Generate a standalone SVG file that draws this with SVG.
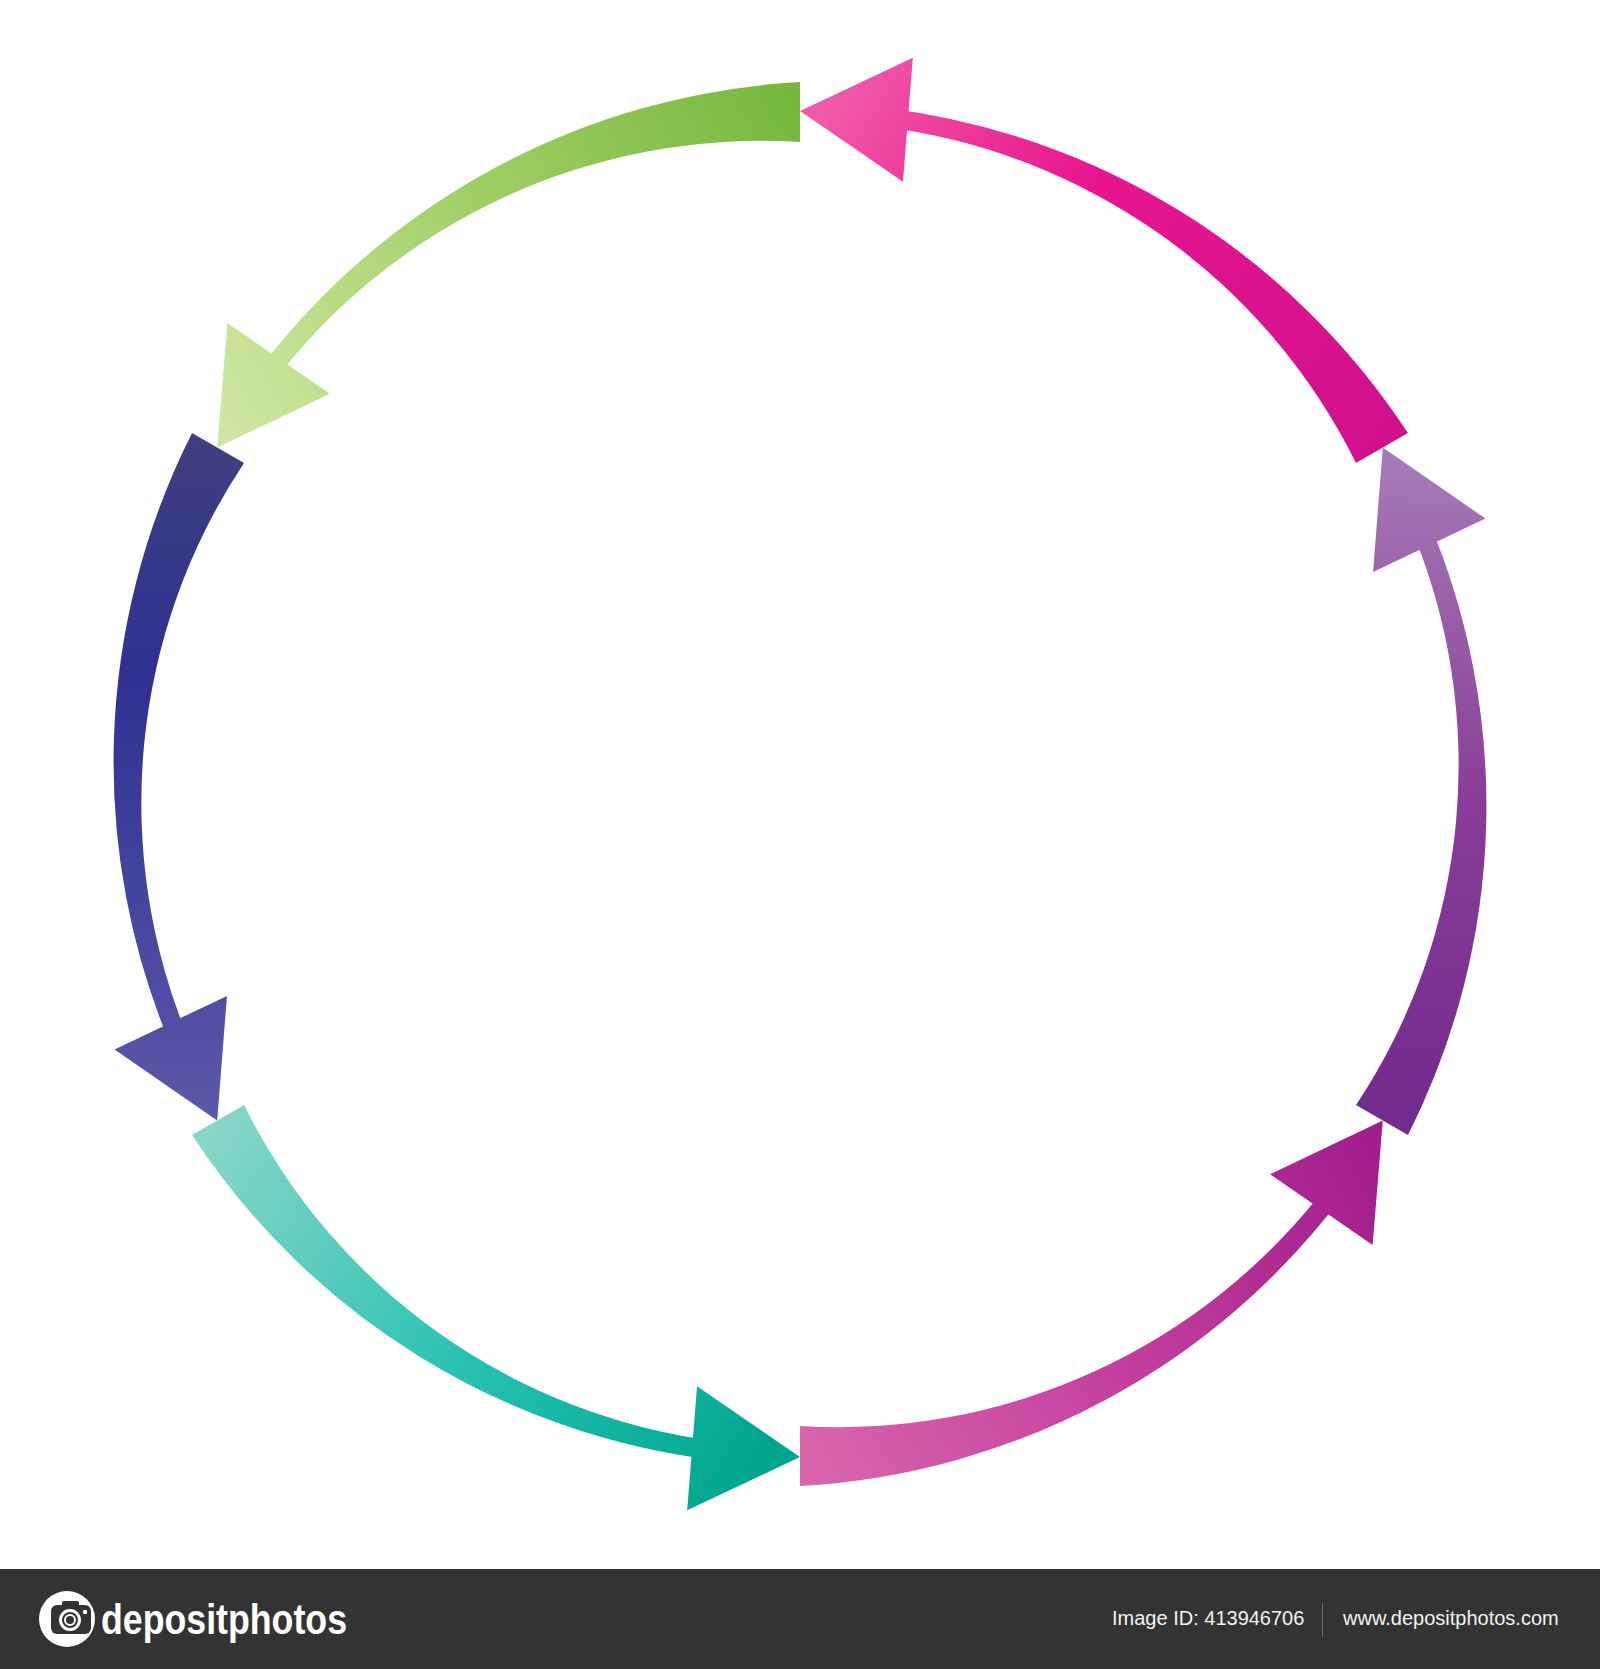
<svg xmlns="http://www.w3.org/2000/svg" width="1600" height="1669" viewBox="0 0 1600 1669">
  <style>
    .bar-text { font-family: "Liberation Sans", Arial, sans-serif; font-size: 20px; fill: #f2f2f2; }
    .logo-text { font-family: "Liberation Sans", Arial, sans-serif; font-size: 42px; font-weight: bold; fill: #ffffff; }
  </style>
  <defs>
    <g id="arrow">
      <path d="M 800 82 A 730 730 0 0 0 255.8 373.9 L 270.9 385.3 A 614 614 0 0 1 800 142 Z"/>
      <path d="M 217.2 447.5 L 227.4 323.1 L 329.9 393.7 Z"/>
    </g>
    <linearGradient id="gGreen" gradientUnits="userSpaceOnUse" x1="800" y1="112" x2="230" y2="430">
      <stop offset="0" stop-color="#76b83e"/>
      <stop offset="0.5" stop-color="#a1cf66"/>
      <stop offset="1" stop-color="#cfe6a3"/>
    </linearGradient>
    <linearGradient id="gBlue" gradientUnits="userSpaceOnUse" x1="800" y1="112" x2="230" y2="430">
      <stop offset="0" stop-color="#3e3e80"/>
      <stop offset="0.35" stop-color="#2e3192"/>
      <stop offset="1" stop-color="#5a57a8"/>
    </linearGradient>
    <linearGradient id="gTeal" gradientUnits="userSpaceOnUse" x1="800" y1="112" x2="230" y2="430">
      <stop offset="0" stop-color="#88d6c8"/>
      <stop offset="0.55" stop-color="#22c0b0"/>
      <stop offset="1" stop-color="#00a58c"/>
    </linearGradient>
    <linearGradient id="gPink" gradientUnits="userSpaceOnUse" x1="800" y1="112" x2="230" y2="430">
      <stop offset="0" stop-color="#d865ac"/>
      <stop offset="0.5" stop-color="#c33f9e"/>
      <stop offset="1" stop-color="#a11d8b"/>
    </linearGradient>
    <linearGradient id="gPurple" gradientUnits="userSpaceOnUse" x1="800" y1="112" x2="230" y2="430">
      <stop offset="0" stop-color="#722a8d"/>
      <stop offset="0.5" stop-color="#8a3e99"/>
      <stop offset="1" stop-color="#a678b5"/>
    </linearGradient>
    <linearGradient id="gMagenta" gradientUnits="userSpaceOnUse" x1="800" y1="112" x2="230" y2="430">
      <stop offset="0" stop-color="#d0118e"/>
      <stop offset="0.6" stop-color="#e8168f"/>
      <stop offset="1" stop-color="#f15aa8"/>
    </linearGradient>
  </defs>

  <rect x="0" y="0" width="1600" height="1669" fill="#ffffff"/>

  <g id="connectors">
    <g id="arrow-green"><use href="#arrow" fill="url(#gGreen)"/></g>
    <g id="arrow-blue" transform="rotate(-60 800 784)"><use href="#arrow" fill="url(#gBlue)"/></g>
    <g id="arrow-teal" transform="rotate(-120 800 784)"><use href="#arrow" fill="url(#gTeal)"/></g>
    <g id="arrow-pink" transform="rotate(180 800 784)"><use href="#arrow" fill="url(#gPink)"/></g>
    <g id="arrow-purple" transform="rotate(120 800 784)"><use href="#arrow" fill="url(#gPurple)"/></g>
    <g id="arrow-magenta" transform="rotate(60 800 784)"><use href="#arrow" fill="url(#gMagenta)"/></g>
  </g>

  <g id="footer">
    <rect x="0" y="1569" width="1600" height="100" fill="#333333"/>
    <g id="logo-icon">
      <circle cx="67" cy="1619" r="28" fill="#ffffff"/>
      <rect x="51" y="1605" width="40" height="29" rx="6" fill="#333333"/>
      <rect x="62" y="1601" width="17" height="6" rx="2" fill="#333333"/>
      <circle cx="85" cy="1612" r="2.2" fill="#ffffff"/>
      <circle cx="70" cy="1620" r="9.5" fill="none" stroke="#ffffff" stroke-width="3"/>
      <circle cx="70" cy="1620" r="5" fill="none" stroke="#ffffff" stroke-width="2"/>
    </g>
    <text class="logo-text" x="101" y="1634" textLength="246" lengthAdjust="spacingAndGlyphs">depositphotos</text>
    <text class="bar-text" x="1112" y="1625">Image ID: 413946706</text>
    <line x1="1322.5" y1="1603" x2="1322.5" y2="1637" stroke="#6a6a6a" stroke-width="1"/>
    <text class="bar-text" x="1343" y="1625">www.depositphotos.com</text>
  </g>
</svg>
